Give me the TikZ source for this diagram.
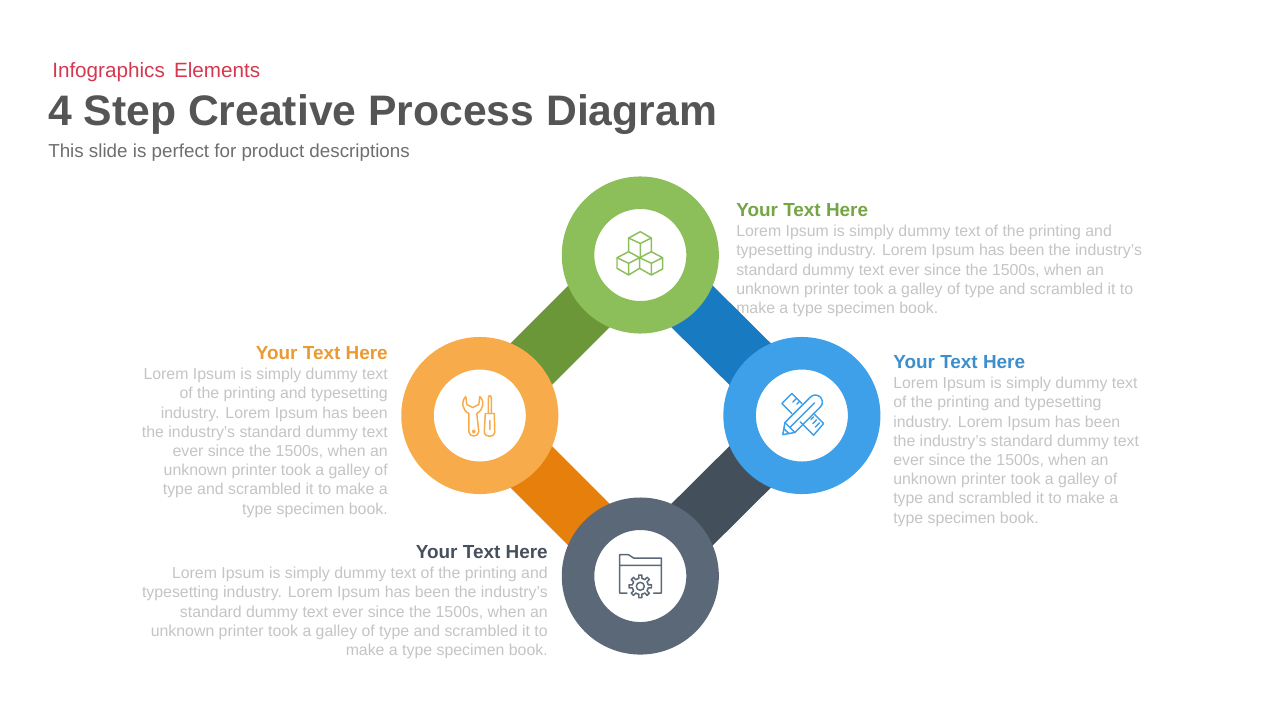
\documentclass[tikz,border=0pt]{standalone}
\usepackage{fontspec}
\setmainfont{Liberation Sans}
\usetikzlibrary{backgrounds}
\definecolor{ringgreen}{HTML}{8CBF5A}
\definecolor{bargreen}{HTML}{6B9738}
\definecolor{ringblue}{HTML}{3DA0E8}
\definecolor{barblue}{HTML}{187BC2}
\definecolor{ringorange}{HTML}{F7AB4B}
\definecolor{barorange}{HTML}{E67F0B}
\definecolor{ringslate}{HTML}{5A6878}
\definecolor{barslate}{HTML}{444F5C}
\definecolor{headgreen}{HTML}{74A545}
\definecolor{headblue}{HTML}{3C8FCB}
\definecolor{headorange}{HTML}{EB9A32}
\definecolor{headslate}{HTML}{46505C}
\definecolor{loremgrey}{HTML}{C4C4C4}
\definecolor{titlegrey}{HTML}{555555}
\definecolor{subgrey}{HTML}{6E6E6E}
\definecolor{tagred}{HTML}{D6374F}

\begin{document}
\begin{tikzpicture}[x=0.75pt, y=-0.75pt, node distance=170.25pt, font=\fontsize{11.9}{14.4}\selectfont]
  \tikzstyle{stepring}=[circle, line width=24.4pt, minimum size=93.4pt, inner sep=0pt, outer sep=12.2pt, draw, fill=white]
  \tikzstyle{linkbar}=[line width=44pt, -, shorten <=-25pt, shorten >=-25pt]
  \tikzstyle{lorem}=[inner sep=0pt, text=loremgrey, anchor=north west, align=left]
  \tikzstyle{loremr}=[inner sep=0pt, text=loremgrey, anchor=north east, align=right]
  \tikzstyle{heading}=[inner sep=0pt, font=\fontsize{14.2}{17}\selectfont\bfseries, anchor=base west]
  \tikzstyle{headingr}=[heading, anchor=base east]
  \tikzstyle{icon}=[line width=1.1pt, line join=round, line cap=round]
  \useasboundingbox (0,0) rectangle (1280,720);

  % steps
  \node[stepring, draw=ringgreen] (top) at (640.3,255) {};
  \node[stepring, draw=ringorange] (left) [below left of=top] {};
  \node[stepring, draw=ringblue] (right) [below right of=top, xshift=0.8pt] {};
  \node[stepring, draw=ringslate] (bottom) [below right of=left] {};

  % texts and links go under the rings
  \begin{scope}[on background layer]
    \node[lorem] (toptext) at (736,225) {Lorem Ipsum is simply dummy text of the printing and\\typesetting industry. Lorem Ipsum has been the industry's\\standard dummy text ever since the 1500s, when an\\unknown printer took a galley of type and scrambled it to\\make a type specimen book.};
    \node[lorem] (righttext) at (893,377) {Lorem Ipsum is simply dummy text\\of the printing and typesetting\\industry. Lorem Ipsum has been\\the industry's standard dummy text\\ever since the 1500s, when an\\unknown printer took a galley of\\type and scrambled it to make a\\type specimen book.};
    \node[loremr] (lefttext) at (388,368) {Lorem Ipsum is simply dummy text\\of the printing and typesetting\\industry. Lorem Ipsum has been\\the industry's standard dummy text\\ever since the 1500s, when an\\unknown printer took a galley of\\type and scrambled it to make a\\type specimen book.};
    \node[loremr] (bottomtext) at (548,567) {Lorem Ipsum is simply dummy text of the printing and\\typesetting industry. Lorem Ipsum has been the industry's\\standard dummy text ever since the 1500s, when an\\unknown printer took a galley of type and scrambled it to\\make a type specimen book.};
    \path
    (top) edge[linkbar, draw=bargreen] (left)
    (top) edge[linkbar, draw=barblue] (right)
    (left) edge[linkbar, draw=barorange] (bottom)
    (right) edge[linkbar, draw=barslate] (bottom);
  \end{scope}

  \node[inner sep=0pt, anchor=base west, text=tagred, font=\fontsize{15.5}{18}\selectfont] (tag) at (52,78) {Infographics\hspace{0.45em}Elements};
  \node[inner sep=0pt, anchor=base west, text=titlegrey, font=\fontsize{32}{38}\selectfont\bfseries] (title) at (48,126) {4 Step Creative Process Diagram};
  \node[inner sep=0pt, anchor=base west, text=subgrey, font=\fontsize{14.1}{17}\selectfont] (sub) at (48,158) {This slide is perfect for product descriptions};

  \node[heading, text=headgreen] (tophead) at (736,216.5) {Your Text Here};
  \node[heading, text=headblue] (righthead) at (893,368.5) {Your Text Here};
  \node[headingr, text=headorange] (lefthead) at (388,359.5) {Your Text Here};
  \node[headingr, text=headslate] (bottomhead) at (548,558.5) {Your Text Here};

  % cubes
  \begin{scope}[icon, draw=ringgreen, shift={(top.center)}]
    \draw (-11.7,-3.5) -- (-11.7,-17) -- (0,-23.3) -- (11,-17) -- (11,-3.5) (-11.7,-17) -- (0,-11.5) -- (11,-17) (0,-11.5) -- (0,2.7);
    \draw (-23.3,2.7) -- (-11.7,-3.3) -- (-0.7,2.7) -- (-0.7,13.3) -- (-11.7,20) -- (-23.3,13.3) -- cycle (-23.3,2.7) -- (-11.7,8.3) -- (-0.7,2.7) (-11.7,8.3) -- (-11.7,20);
    \draw (-0.7,2.7) -- (11,-3.3) -- (22.3,2.7) -- (22.3,14) -- (11,20) -- (-0.7,13.3) (-0.7,2.7) -- (11,8.3) -- (22.3,2.7) (11,8.3) -- (11,20);
  \end{scope}
  % pencil and ruler
  \begin{scope}[icon, draw=ringblue, shift={(right.center)}]
    \draw (0,-12) -- (-10,-22) -- (-20,-12) -- (-10,-2);
    \draw (-5.5,-17) -- (-9,-13.5) (-2.5,-14) -- (-5,-11.5);
    \draw (-1.7,6.3) -- (11.7,19.7) -- (21.7,8) -- (11.7,-2);
    \draw (14.5,4.5) -- (11,8) (11.5,1.5) -- (9,4) (17.5,7.5) -- (13.5,11.5);
    \begin{scope}[rotate=45]
      \draw (-17,-7) -- (19,-7) .. controls (24,-7) and (26,-3) .. (26,0) .. controls (26,3) and (24,7) .. (19,7) -- (-17,7) -- (-27,0) -- cycle;
      \draw (-17,-7) -- (-17,7) (-17,0) -- (18,0) (-22,-3.5) -- (-22,3.5);
    \end{scope}
  \end{scope}
  % spanner and screwdriver
  \begin{scope}[icon, draw=ringorange, shift={(left.center)}]
    \draw (-11,-2) .. controls (-18,-6) and (-19,-14) .. (-14,-19) -- (-13,-11) -- (-7,-8) -- (-1,-11) -- (0,-19) .. controls (5,-14) and (4,-6) .. (-3,-2) -- (-1,16) .. controls (-1,22) and (-11,22) .. (-11,16) -- cycle;
    \draw (-6,16) circle (1.3);
    \draw (8.5,-2) -- (8.5,-17) .. controls (8.5,-21) and (11.5,-21) .. (11.5,-17) -- (11.5,-2);
    \draw (5.5,-2) -- (14.5,-2) -- (15,17) .. controls (15,22) and (4.5,22) .. (4.5,17) -- cycle (10,5) -- (10,14);
  \end{scope}
  % folder and gear
  \begin{scope}[icon, draw=ringslate, shift={(bottom.center)}]
    \draw (-13.3,17) -- (-20.7,17) -- (-20.7,-21.3) -- (-11.7,-21.3) -- (-6.7,-18) -- (21,-18) -- (21,17) -- (13.3,17) (-20.7,-10.7) -- (21,-10.7);
    \draw (0,10.3) circle (4);
    \foreach \ang in {0,45,...,315}
      \draw[shift={(0,10.3)}] (\ang-22.5:8) -- (\ang-11:8) -- (\ang-8:11.3) -- (\ang+8:11.3) -- (\ang+11:8) -- (\ang+22.5:8);
  \end{scope}
\end{tikzpicture}
\end{document}
